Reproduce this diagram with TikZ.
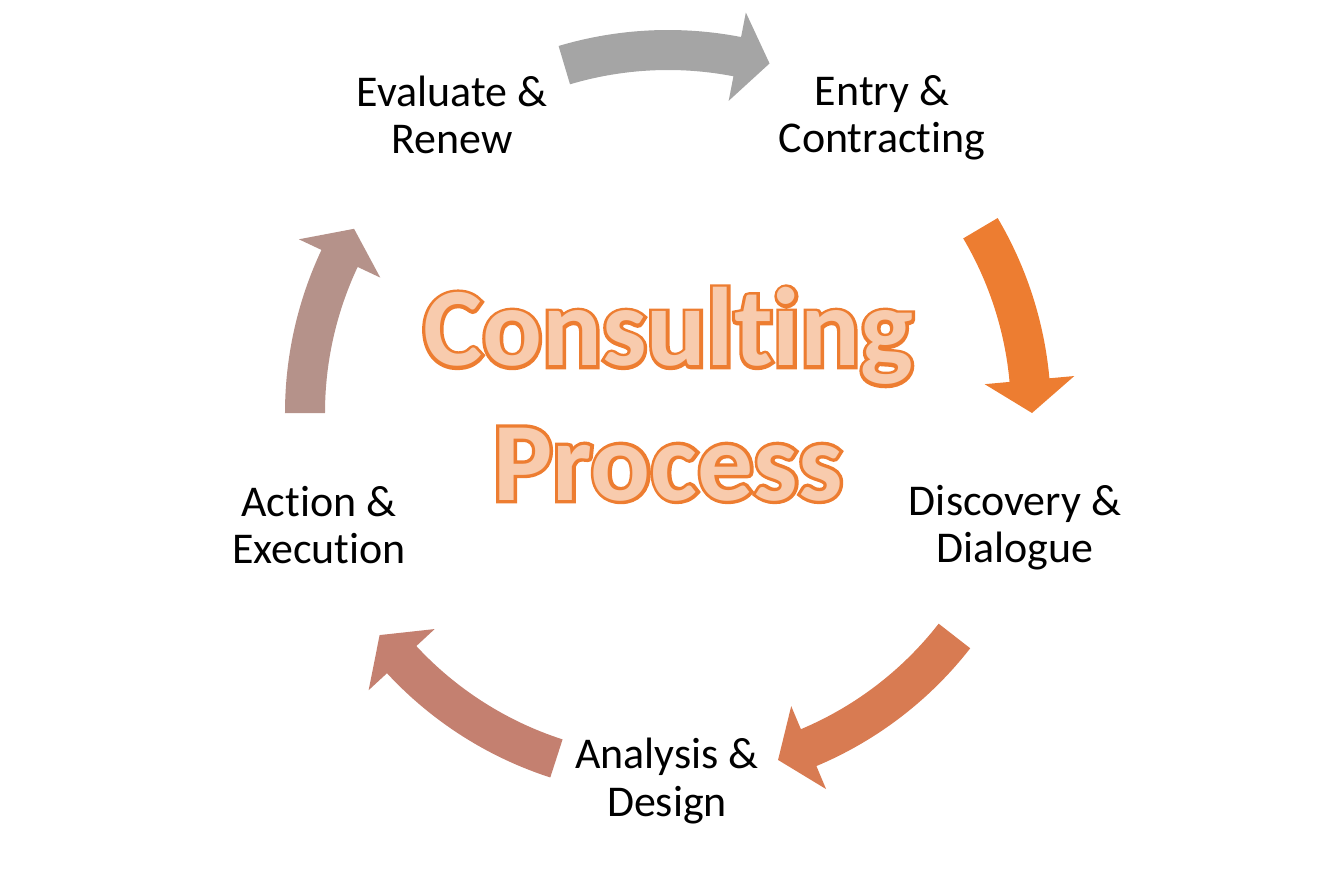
\documentclass[tikz,border=0pt]{standalone}
\usepackage{fontspec}
\setmainfont{Carlito}[Ligatures=NoCommon]
\newfontfamily\titleedge{Carlito}[Ligatures=NoCommon, BoldFeatures={FakeBold=6}]
\usepackage{tikz}
\usetikzlibrary{positioning}
\definecolor{arrowgray}{HTML}{A5A5A5}
\definecolor{arroworange}{HTML}{ED7D31}
\definecolor{arrowrust}{HTML}{D87B52}
\definecolor{arrowclay}{HTML}{C48070}
\definecolor{arrowmauve}{HTML}{B5928A}
\definecolor{titlefill}{HTML}{F8CBAD}
\definecolor{titleline}{HTML}{ED7D31}
% fat arc arrow round the centre: colour, tail angle, tip angle
\newcommand\cyclearrow[3]{%
    \pgfmathsetmacro\headangle{#3+5.2}%
    \fill[#1] (#2:7.66) arc[start angle=#2, end angle=\headangle, radius=7.66]
        -- (\headangle:8.16) -- (#3:7.28) -- (\headangle:6.36) -- (\headangle:6.86)
        arc[start angle=\headangle, end angle=#2, radius=6.86] -- cycle;}

\begin{document}
\begin{tikzpicture}
    [stage/.style={font=\fontsize{25}{26.8}\selectfont, align=center, text=black},
    title/.style={font=\fontsize{63.5}{76}\selectfont\bfseries, text=titlefill, anchor=base},
    titlerim/.style={font=\fontsize{63.5}{76}\selectfont\titleedge\bfseries, text=titleline, anchor=base}]
    \useasboundingbox (-13.36,-9.52) rectangle (13.32,8.26);
    \coordinate (centre) at (0,0);
    \cyclearrow{arrowgray}{106.6}{73.8}
    \cyclearrow{arroworange}{30.6}{0}
    \cyclearrow{arrowrust}{-37.9}{-72.4}
    \cyclearrow{arrowclay}{-107.9}{-142.4}
    \cyclearrow{arrowmauve}{180}{149.6}
    \node[stage] (entry) at (4.28,5.90) {Entry \&\\Contracting};
    \node[stage] (discovery) at (6.94,-2.30) {Discovery \&\\Dialogue};
    \node[stage] (analysis) at (-0.02,-7.36) {Analysis \&\\Design};
    \node[stage] (action) at (-6.98,-2.24) {Action \&\\Execution};
    \node[stage] (evaluate) at (-4.32,5.96) {Evaluate \&\\Renew};
    % orange rim first, light letters on top
    \node[titlerim] (consultingrim) at (0,0.94) {Consulting};
    \node[titlerim] (processrim) at (0,-1.74) {Process};
    \node[title] (consulting) at (consultingrim.base) {Consulting};
    \node[title] (process) at (processrim.base) {Process};
\end{tikzpicture}
\end{document}
